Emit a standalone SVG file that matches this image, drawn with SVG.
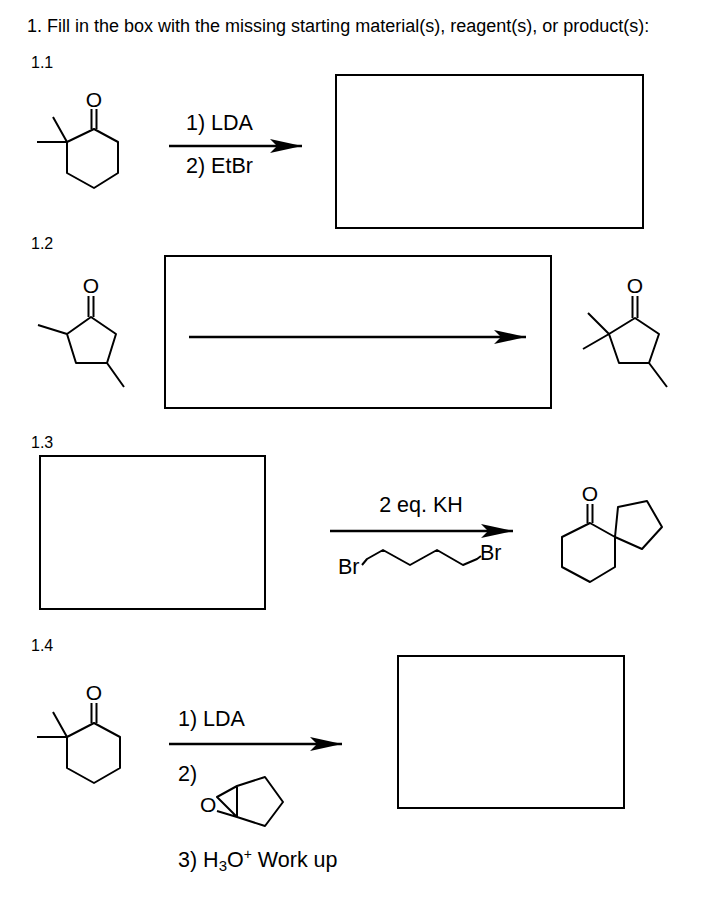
<svg xmlns="http://www.w3.org/2000/svg" width="728" height="920" viewBox="0 0 728 920">
<style>
text{font-family:"Liberation Sans",Arial,sans-serif;fill:#000}
.t{font-size:16px}.a{font-size:21.5px}.o{font-size:21px}
.b{fill:none;stroke:#000;stroke-width:2}
.m{fill:none;stroke:#000;stroke-width:2;stroke-linejoin:round}
.c{stroke:#000;stroke-width:2.5}
</style>
<defs>
<marker id="ah2" viewBox="0 0 32 14" markerWidth="32" markerHeight="14" refX="32" refY="7" orient="auto" markerUnits="userSpaceOnUse"><path d="M0,0 L32,7 L0,14 L7,7 Z" fill="#000"/></marker></defs>
<rect width="728" height="920" fill="#fff"/>
<text x="27" y="32" style="font-size:18px">1. Fill in the box with the missing starting material(s), reagent(s), or product(s):</text>
<text x="31" y="68" class="t">1.1</text>
<text x="31" y="249" class="t">1.2</text>
<text x="31" y="448" class="t">1.3</text>
<text x="31" y="651" class="t">1.4</text>
<g id="mol11">
<text x="94" y="107" class="o" text-anchor="middle">O</text>
<line x1="91.5" y1="109" x2="91.5" y2="129" class="m"/><line x1="96.5" y1="109" x2="96.5" y2="129" class="m"/>
<path d="M94,129 L118,142 L118,173 L94,188 L67,173 L67,142 Z M67,142 L53,117 M67,142 L37,142" class="m"/>
</g>
<g id="box11"><rect x="336" y="75" width="307" height="153" class="b"/></g>
<g id="r11"><text x="186" y="130" class="a">1) LDA</text><text x="186" y="173" class="a">2) EtBr</text></g>
<g id="mol12a">
<text x="91" y="293" class="o" text-anchor="middle">O</text>
<line x1="88.5" y1="296" x2="88.5" y2="317" class="m"/><line x1="93.5" y1="296" x2="93.5" y2="317" class="m"/>
<path d="M91,317 L116,334 L107,363 L76,363 L67,334 Z M67,334 L38,325 M107,363 L124,387" class="m"/>
</g>
<g id="box12"><rect x="165" y="256" width="386" height="152" class="b"/></g>
<g id="mol12b">
<text x="635" y="293" class="o" text-anchor="middle">O</text>
<line x1="632.5" y1="296" x2="632.5" y2="318" class="m"/><line x1="637.5" y1="296" x2="637.5" y2="318" class="m"/>
<path d="M635,318 L659,334 L649,363 L619,363 L609,334 Z M609,334 L588,313 M609,334 L583,349 M649,363 L667,387" class="m"/>
</g>
<g id="box13"><rect x="40" y="456" width="225" height="153" class="b"/></g>
<g id="r13">
<text x="421" y="512" class="a" text-anchor="middle">2 eq. KH</text>
<text x="338" y="574" class="a">Br</text>
<path d="M362,565 L367,559 L383,550 L410,565 L437,550 L463,565 L477,559 L481,556" class="m"/>
<text x="480" y="560" class="a">Br</text>
</g>
<g id="mol13">
<text x="590" y="501" class="o" text-anchor="middle">O</text>
<line x1="587.5" y1="504" x2="587.5" y2="523" class="m"/><line x1="592.5" y1="504" x2="592.5" y2="523" class="m"/>
<path d="M590,523 L615,537 L615,567 L590,582 L562,567 L562,537 Z M615,537 L618,507 L647,501 L662,527 L642,549 Z" class="m"/>
</g>
<g id="mol14">
<text x="94" y="700" class="o" text-anchor="middle">O</text>
<line x1="91.5" y1="703" x2="91.5" y2="723" class="m"/><line x1="96.5" y1="703" x2="96.5" y2="723" class="m"/>
<path d="M94,723 L120,737 L120,768 L94,783 L67,768 L67,737 Z M67,737 L53,712 M67,737 L37,737" class="m"/>
</g>
<g id="box14"><rect x="398" y="656" width="226" height="152" class="b"/></g>
<g id="r14">
<text x="178" y="726" class="a">1) LDA</text>
<text x="178" y="781" class="a">2)</text>
<text x="200" y="812" class="o">O</text>
<path d="M217,797 L237,786 L265,777 L283,802 L265,826 L237,817 Z M237,786 L237,817 M217,811 L237,817" class="m"/>
<text x="178" y="867" class="a">3) H<tspan font-size="15" dy="4">3</tspan><tspan dy="-4">O</tspan><tspan font-size="14" dy="-8">+</tspan><tspan dy="8"> Work up</tspan></text>
</g>
<g id="connectors">
<line x1="169" y1="146" x2="302" y2="146" class="c" marker-end="url(#ah2)"/>
<line x1="189" y1="337" x2="526" y2="337" class="c" marker-end="url(#ah2)"/>
<line x1="330" y1="531" x2="513" y2="531" class="c" marker-end="url(#ah2)"/>
<line x1="169" y1="744" x2="342" y2="744" class="c" marker-end="url(#ah2)"/>
</g>
</svg>
